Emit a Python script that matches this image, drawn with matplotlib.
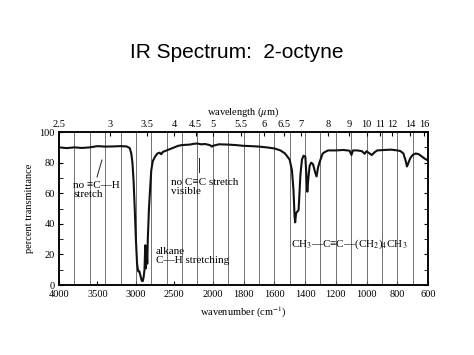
"""IR spectrum of 2-octyne, redrawn in the style of a textbook scan."""

import matplotlib
matplotlib.use("Agg")
import matplotlib.pyplot as plt
import numpy as np

plt.rcParams.update(
    {
        "font.family": ["Liberation Serif", "DejaVu Serif"],
        "mathtext.fontset": "stix",
        "font.size": 7.5,
        "axes.linewidth": 1.1,
        "xtick.direction": "in",
        "ytick.direction": "in",
    }
)

# Spectrum (wavenumber in cm^-1, percent transmittance)
WAVENUMBER = [
    4000, 3900, 3800, 3700, 3600, 3500, 3400, 3300, 3200, 3120, 3080, 3060,
    3045, 3030, 3015, 3000, 2985, 2970, 2955, 2940, 2925, 2912, 2900, 2888,
    2878, 2870, 2862, 2852, 2845, 2830, 2815, 2800, 2780, 2750, 2720, 2690,
    2670, 2650, 2600, 2550, 2500, 2450, 2400, 2300, 2250, 2200, 2150, 2100,
    2040, 2010, 2000, 1960, 1900, 1850, 1800, 1750, 1700, 1650, 1600, 1560,
    1530, 1500, 1485, 1475, 1468, 1464, 1458, 1450, 1442, 1436, 1430, 1420,
    1410, 1398, 1390, 1385, 1380, 1370, 1360, 1348, 1335, 1325, 1315, 1303,
    1285, 1270, 1250, 1200, 1150, 1110, 1098, 1088, 1060, 1030, 1012, 1000,
    980, 966, 945, 930, 880, 840, 800, 780, 760, 745, 737, 725, 715, 700,
    680, 660, 640, 620, 600,
]
TRANSMITTANCE = [
    90.0, 89.5, 90.0, 89.6, 90.0, 90.8, 90.5, 90.6, 90.8, 90.6, 89.5, 86.0,
    80.0, 68.0, 50.0, 30.0, 14.0, 9.0, 9.0, 6.0, 3.0, 2.5, 5.0, 10.0,
    26.0, 11.0, 25.0, 14.0, 30.0, 50.0, 63.0, 75.0, 81.0, 84.0, 86.0, 86.5,
    85.5, 87.0, 88.0, 89.0, 90.0, 91.0, 91.5, 91.8, 92.3, 92.5, 92.0, 92.2,
    91.5, 90.5, 91.0, 92.0, 91.8, 91.5, 91.0, 90.8, 90.5, 90.0, 89.3, 88.0,
    86.0, 82.0, 75.0, 62.0, 45.0, 41.0, 47.0, 48.0, 49.0, 60.0, 72.0, 82.0,
    84.5, 84.0, 70.0, 61.0, 68.0, 78.0, 80.0, 79.0, 74.0, 71.0, 77.0, 81.0,
    86.0, 87.0, 88.0, 88.0, 88.3, 87.8, 85.0, 88.0, 88.0, 87.5, 85.8, 87.5,
    86.0, 85.0, 87.0, 88.0, 88.3, 88.5, 88.0, 87.6, 86.0, 81.0, 77.5, 80.5,
    83.0, 85.0, 86.0, 85.5, 84.0, 82.5, 81.5,
]

BOTTOM_TICKS = [4000, 3500, 3000, 2500, 2000, 1800, 1600, 1400, 1200, 1000, 800, 600]
WAVELENGTH_TICKS = [2.5, 3, 3.5, 4, 4.5, 5, 5.5, 6, 6.5, 7, 8, 9, 10, 11, 12, 14, 16]
Y_TICKS = [0, 20, 40, 60, 80, 100]


def _fwd(w):
    # chart paper: scale doubles below 2000 cm^-1
    w = np.asarray(w, dtype=float)
    return np.where(w >= 2000, (w - 2000) / 500.0, (w - 2000) / 250.0)


def _inv(u):
    u = np.asarray(u, dtype=float)
    return np.where(u >= 0, 2000 + 500.0 * u, 2000 + 250.0 * u)


fig = plt.figure(figsize=(4.74, 3.55), dpi=100)
ax = fig.add_axes([0.1245, 0.197, 0.7785, 0.431])
ax.set_xscale("function", functions=(_fwd, _inv))
ax.set_xlim(4000, 600)
ax.set_ylim(0, 100)

# chart paper rulings
grid = list(np.arange(3800, 1999, -200)) + list(np.arange(1900, 650, -100))
ax.xaxis.remove_overlapping_locs = False
ax.set_xticks(grid, minor=True)
ax.grid(axis="x", which="minor", color="#5a5a5a", lw=0.6)
ax.tick_params(axis="x", which="minor", length=0)

ax.plot(WAVENUMBER, TRANSMITTANCE, color="#111111", lw=1.5)

ax.set_xticks(BOTTOM_TICKS, [str(t) for t in BOTTOM_TICKS])
ax.set_yticks(Y_TICKS, [str(t) for t in Y_TICKS])
ax.set_yticks(np.arange(0, 101, 10), minor=True)
ax.tick_params(axis="x", which="major", length=3, pad=3.5)
ax.tick_params(axis="y", which="both", length=3, pad=3, right=True)
ax.tick_params(axis="y", which="minor", length=3)
ax.set_xlabel("wavenumber (cm$^{-1}$)", labelpad=4)
ax.set_ylabel("percent transmittance", labelpad=4)

top = ax.twiny()
top.set_xscale("function", functions=(_fwd, _inv))
top.set_xlim(4000, 600)
top.set_xticks([10000.0 / lam for lam in WAVELENGTH_TICKS],
               [f"{lam:g}" for lam in WAVELENGTH_TICKS])
top.tick_params(axis="x", length=3, pad=2)
top.set_xlabel("wavelength ($\\mu$m)", labelpad=4)

# annotations from the textbook figure
ax.text(3818, 62, "no \u2261C\u2014H\nstretch", ha="left", va="center",
        linespacing=1.0, fontsize=8)
ax.plot([3506, 3442], [70.6, 81.7], color="#222222", lw=0.7)
ax.text(2545, 64.3, "no C\u2261C stretch\nvisible", ha="left", va="center",
        linespacing=1.0, fontsize=8)
ax.plot([2182, 2182], [74, 83], color="#222222", lw=0.7)
ax.text(2740, 19.3, "alkane\nC\u2014H stretching", ha="left", va="center",
        linespacing=1.0, fontsize=8)
ax.text(1115, 26.8, "CH${}_3$\u2014C\u2261C\u2014(CH${}_2$)${}_4$CH${}_3$",
        ha="center", va="center", fontsize=8)

fig.text(0.5, 0.853, "IR Spectrum:  2-octyne", ha="center", va="center",
         fontsize=15, family="Liberation Sans")

fig.savefig("out.png", dpi=100, facecolor="white")
